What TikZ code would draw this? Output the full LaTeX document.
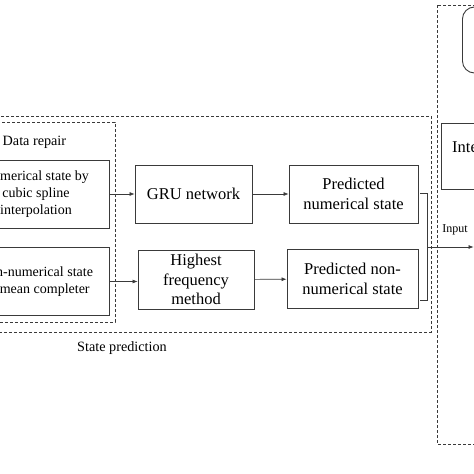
\documentclass[tikz,border=0pt]{standalone}
\usepackage{fontspec}
\setmainfont{Liberation Serif}
\usetikzlibrary{positioning,calc,arrows.meta}
\definecolor{lineGray}{HTML}{3A3A3A}

\begin{document}
\begin{tikzpicture}[x=1pt,y=-1pt,
  procBox/.style  ={draw=lineGray, line width=0.9pt, align=center, inner sep=1pt,
                    font=\fontsize{16.5}{19.3}\selectfont},
  repairBox/.style={draw=lineGray, line width=0.9pt, align=center, inner sep=1pt,
                    font=\fontsize{14}{17}\selectfont},
  groupBox/.style ={draw=lineGray, line width=0.8pt, dash pattern=on 3pt off 2pt},
  flowArrow/.style={draw=lineGray, line width=0.6pt, -{Latex[length=5pt,width=4pt]}},
  groupLabel/.style={font=\fontsize{14.2}{17}\selectfont, inner sep=0pt},
]
% picture is a crop: 474 x 474, y grows downwards
\useasboundingbox (0,0) rectangle (474,474);
\clip (0,0) rectangle (474,474);

% dashed groups (left / right edges run off the crop)
\draw[groupBox] (-20,116) rectangle (431,332);
\draw[groupBox] (-10,122) rectangle (115,322);
\draw[groupBox] (437,5) rectangle (520,444);
\node[groupLabel, anchor=west] (repairLbl) at (2.5,142) {Data repair};
\node[groupLabel] (predLbl) at (122,348) {State prediction};

% data repair
\node[repairBox, minimum width=146pt, minimum height=68pt] (numRepair) at (36,194)
  {Numerical state by\\cubic spline\\interpolation};
\node[repairBox, minimum width=146pt, minimum height=68pt] (nonRepair) at (36,281.5)
  {Non-numerical state\\by mean completer};

% prediction
\node[procBox, minimum width=117pt, minimum height=58pt] (gru) at (193.5,194) {GRU network};
\node[procBox, minimum width=116pt, minimum height=59pt] (highFreq) at (196,279.5)
  {Highest\\frequency\\method};
\node[procBox, minimum width=129pt, minimum height=58pt] (predNum) at (353.5,194)
  {Predicted\\numerical state};
\node[procBox, minimum width=131pt, minimum height=59pt] (predNon) at (352.5,279)
  {Predicted non-\\numerical state};

% right part
\node[draw=lineGray, line width=0.9pt, rounded corners=12pt, anchor=west,
      minimum width=60pt, minimum height=66pt] (topTerm) at (462,40) {};
\node[procBox, anchor=west, minimum width=80pt, minimum height=66pt] (intel) at (441,156) {};
\node[font=\fontsize{16.5}{19.3}\selectfont, inner sep=0pt, anchor=west] (intelTxt) at (452,149)
  {Intelligent};

\draw[flowArrow] (numRepair.east) -- (gru.west);
\draw[flowArrow] (nonRepair.east) -- (nonRepair.east -| highFreq.west);
\draw[flowArrow] (gru) -- (predNum);
\draw[flowArrow] (highFreq) -- (predNon);

% bracket joining both predicted states
\draw[draw=lineGray, line width=0.9pt] ([xshift=2pt,yshift=1pt]predNum.east) -- ++(7,0)
  |- ([xshift=2pt,yshift=-21pt]predNon.east);
\coordinate (brkMid) at (427,247);
\coordinate (inputEnd) at (473.5,247);
\draw[flowArrow] (brkMid) -- (inputEnd);
\node[font=\fontsize{12}{14}\selectfont, inner sep=0pt] (inputLbl) at (455,230) {Input};
\end{tikzpicture}
\end{document}
